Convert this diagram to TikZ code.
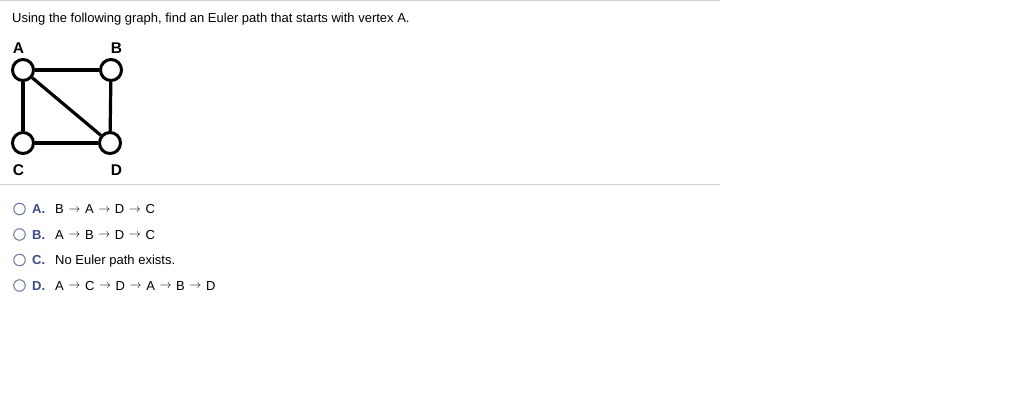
\documentclass[tikz,border=0pt]{standalone}
\usepackage{fontspec}
\setmainfont{Liberation Sans}
\newcommand{\nxt}{\hspace{1pt} \raisebox{1.2pt}{$\rightarrow$} \hspace{1pt}}
\definecolor{rulegray}{HTML}{D2D2D2}
\definecolor{optblue}{HTML}{3E4C87}
\definecolor{radiogray}{HTML}{6B78A0}
\tikzset{
  vertex/.style={circle,draw,line width=3pt,minimum size=21pt,inner sep=0pt},
  vlabel/.style={anchor=base,font=\fontsize{15.5}{18}\selectfont\bfseries},
  edge/.style={line width=3.2pt},
  radio/.style={circle,draw=radiogray,line width=1pt,minimum size=11.5pt,inner sep=0pt},
  optletter/.style={anchor=base west,text=optblue,font=\fontsize{13}{15}\selectfont\bfseries,inner sep=0pt},
  opttext/.style={anchor=base west,font=\fontsize{13}{15}\selectfont,inner sep=0pt}
}
\begin{document}
\begin{tikzpicture}[x=1pt,y=-1pt]
                \useasboundingbox[fill=white] (0,0) rectangle (1016,404);
                \draw[rulegray,line width=1.2pt] (0,0.6) -- (720,0.6);
                \draw[rulegray,line width=1pt] (0,184.5) -- (720,184.5);
                \node[opttext] (question) at (12,22.5) {Using the following graph, find an Euler path that starts with vertex A.};
                % graph
                \node[vertex] (A) at (23,70) {};
                \node[vertex] (B) at (111,70) {};
                \node[vertex] (C) at (23,143) {};
                \node[vertex] (D) at (110,143) {};
                \node[vlabel] (lA) at (18.5,53.5) {A};
                \node[vlabel] (lB) at (116.5,54) {B};
                \node[vlabel] (lC) at (18.5,175) {C};
                \node[vlabel] (lD) at (116.5,175) {D};
                \draw[edge] (A) -- (B);
                \draw[edge] (A) -- (C);
                \draw[edge] (A) -- (D);
                \draw[edge] (B) -- (D);
                \draw[edge] (C) -- (D);
                % answers
                \foreach \k/\y/\txt in {A/213.5/{B\nxt A\nxt D\nxt C},
                                        B/239/{A\nxt B\nxt D\nxt C},
                                        C/264.5/{No Euler path exists.},
                                        D/290/{A\nxt C\nxt D\nxt A\nxt B\nxt D}} {
                  \node[radio] (radio\k) at (19.5,\y-4.5) {};
                  \node[optletter] (letter\k) at (32,\y) {\k.};
                  \node[opttext] (answer\k) at (55,\y) {\txt};
                }
\end{tikzpicture}
\end{document}
